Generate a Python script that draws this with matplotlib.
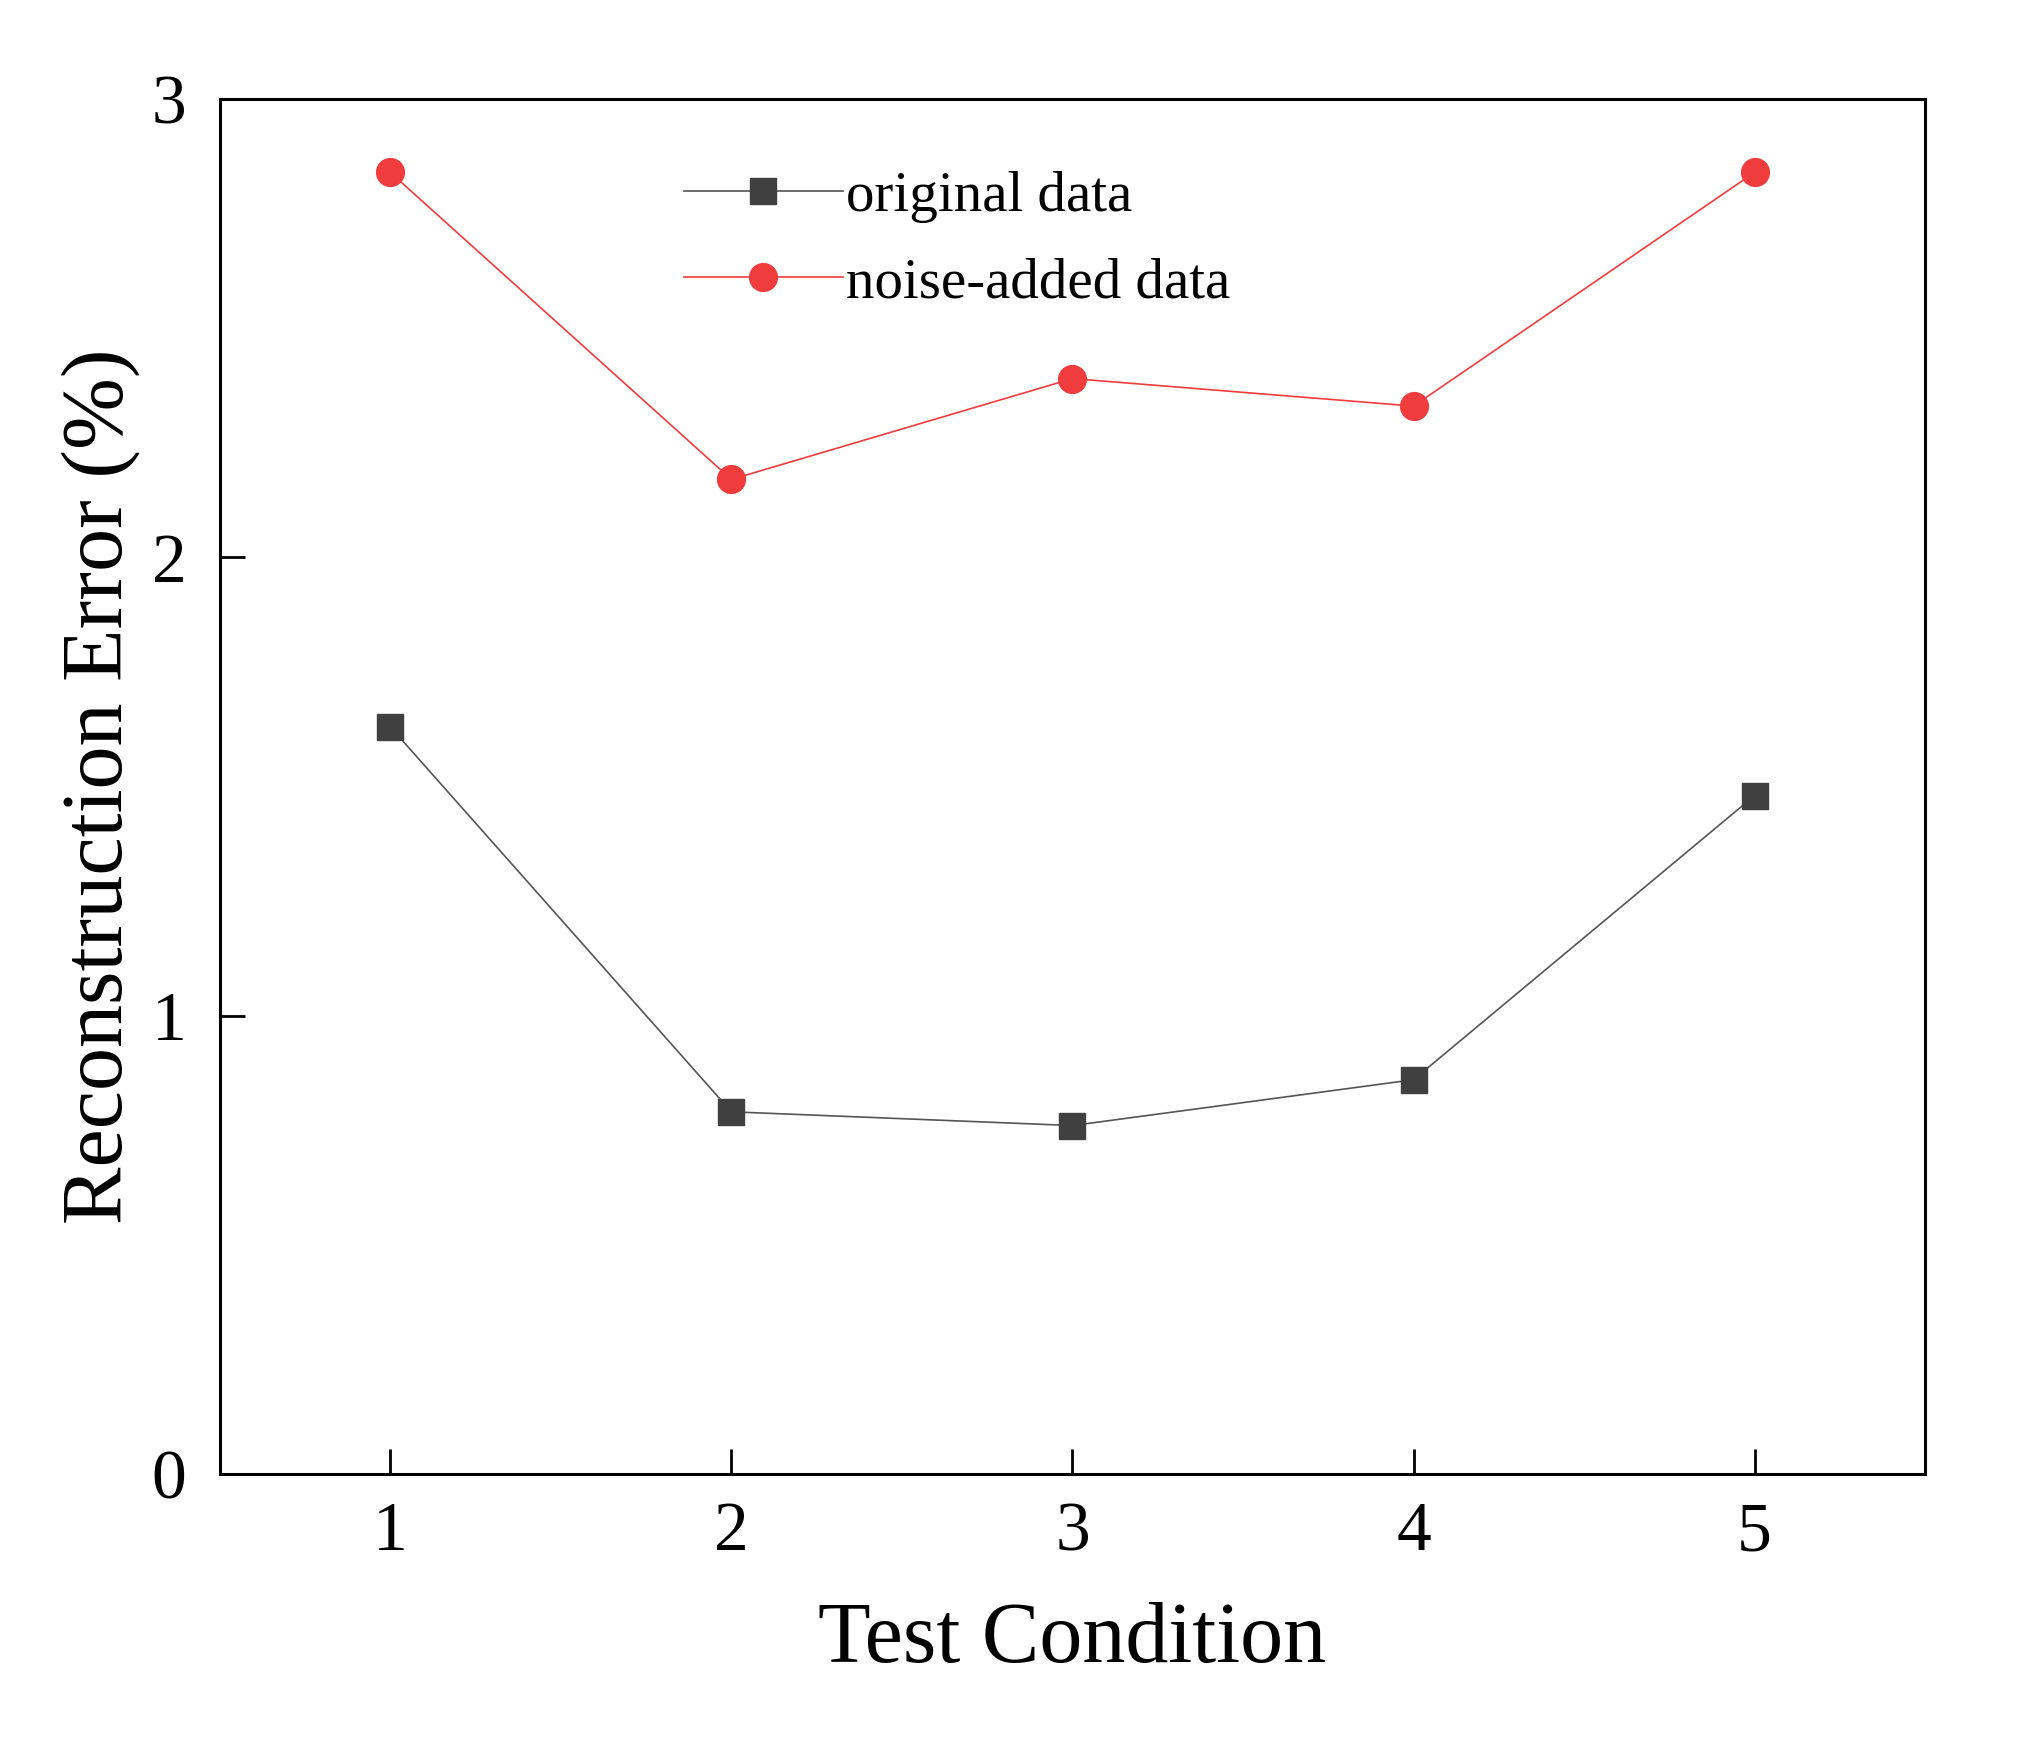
import matplotlib
matplotlib.use("Agg")
import matplotlib.pyplot as plt

plt.rcParams["font.family"] = ["Liberation Serif", "DejaVu Serif"]

conditions = [1, 2, 3, 4, 5]
original = [1.63, 0.79, 0.76, 0.86, 1.48]
noise_added = [2.84, 2.17, 2.39, 2.33, 2.84]

fig = plt.figure(figsize=(20.35, 17.38), dpi=100)
ax = fig.add_axes([0.108, 0.152, 0.838, 0.791])

ax.plot(conditions, original, color="#555555", lw=1.2, marker="s", ms=19,
        mfc="#404040", mec="#404040", label="original data")
ax.plot(conditions, noise_added, color="#f03c3c", lw=1.2, marker="o", ms=20,
        mfc="#f03c3c", mec="#f03c3c", label="noise-added data")

ax.set_xlim(0.5, 5.5)
ax.set_ylim(0, 3)
ax.set_xticks(conditions)
ax.set_yticks([0, 1, 2, 3])
ax.tick_params(direction="in", length=18, width=2, labelsize=50,
               top=False, right=False)
ax.tick_params(axis="x", pad=20)
ax.tick_params(axis="y", pad=24)
for s in ax.spines.values():
    s.set_linewidth(2.2)

ax.set_xlabel("Test Condition", fontsize=62, labelpad=26)
ax.set_ylabel("Reconstruction Error (%)", fontsize=62, labelpad=8)

ax.legend(loc="upper left", bbox_to_anchor=(0.242, 0.985), frameon=False,
          fontsize=41, handlelength=2.8, handletextpad=0.05, labelspacing=0.6)

fig.savefig("out.png", dpi=100)
